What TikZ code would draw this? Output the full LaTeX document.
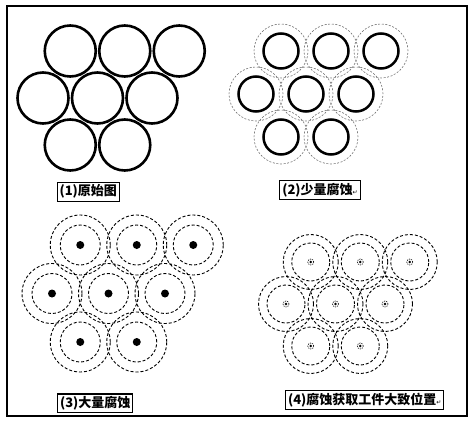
\documentclass[tikz,border=0pt]{standalone}
\usepackage{fontspec}
\usepackage{tikz}
\usetikzlibrary{positioning}
\newfontfamily\cjk{Noto Sans CJK SC}
\newfontfamily\symf{DejaVu Sans}
\tikzstyle{wire} = [circle, draw=black, line width=2.6pt, inner sep=0pt, minimum size=51pt]
\tikzstyle{thinwire} = [circle, draw=black, line width=2.5pt, inner sep=0pt, minimum size=35pt]
\tikzstyle{halo} = [circle, draw=black!55, line width=0.6pt, dash pattern=on 2pt off 1.6pt, inner sep=0pt]
\tikzstyle{ring} = [circle, draw=black, line width=0.9pt, dash pattern=on 3pt off 2pt, inner sep=0pt]
\tikzstyle{core} = [circle, fill=black, inner sep=0pt]
\tikzstyle{tag} = [draw=black, line width=1.1pt, inner sep=2.5pt, minimum height=16pt,
font=\cjk\bfseries\fontsize{13}{13}\selectfont]
\newcommand{\cells}[5]{ %
  % eight cell centres of one panel: #1 name, #2/#3 origin, #4 step, #5 row step
  \foreach \i/\j [count=\k] in {0.5/0, 1.5/0, 2.5/0, 0/1, 1/1, 2/1, 0.5/2, 1.5/2} { %
    \coordinate (#1\k) at ({#2+\i*#4},{#3+\j*#5}) ;%
  } ;
}
\newcommand{\retmark}{{\symf\mdseries\fontsize{6}{6}\selectfont ↵}}

\begin{document}
\begin{tikzpicture}[x=1pt, y=-1pt]
  \useasboundingbox (0,0) rectangle (474,425);
  \node[draw=black, line width=1.6pt, inner sep=0pt, minimum width=460pt, minimum height=410pt] (frame) at (237,211) {};
  % cell centres
  \cells{A}{43}{51}{54.5}{47}
  \cells{B}{256}{51}{50}{43}
  \cells{C}{52}{245}{56.5}{48.5}
  \cells{D}{286}{262}{49.5}{42}
  % (1) original
  \foreach \k in {1,...,8} \node[wire] (A\k w) at (A\k) {};
  % (2) slight corrosion
  \foreach \k in {1,...,8} {
    \node[halo, minimum size=54pt] (B\k h) at (B\k) {};
    \node[thinwire] (B\k w) at (B\k) {};
  }
  % (3) heavy corrosion
  \foreach \k in {1,...,8} {
    \node[ring, minimum size=60pt] (C\k o) at (C\k) {};
    \node[ring, minimum size=40pt] (C\k i) at (C\k) {};
    \node[core, minimum size=8pt] (C\k c) at (C\k) {};
  }
  % (4) rough positions
  \foreach \k in {1,...,8} {
    \node[ring, minimum size=55pt] (D\k o) at (D\k) {};
    \node[ring, minimum size=38pt] (D\k i) at (D\k) {};
    \node[ring, line width=0.6pt, dash pattern=on 1.2pt off 1pt, minimum size=6pt] (D\k m) at (D\k) {};
    \node[core, minimum size=2.6pt] (D\k c) at (D\k) {};
  }
  % tags
  \node[tag, below = 10pt of A7w, xshift = 18pt] (tagA) {(1)原始图};
  \node[tag, below = 15.5pt of B7h, xshift = 39pt] (tagB) {(2)少量腐蚀\retmark};
  \node[tag, below = 21pt of C7o, xshift = 15pt] (tagC) {(3)大量腐蚀};
  \node[tag, below = 16pt of D7o, xshift = 54pt] (tagD) {(4)腐蚀获取工件大致位置\retmark};
\end{tikzpicture}
\end{document}
